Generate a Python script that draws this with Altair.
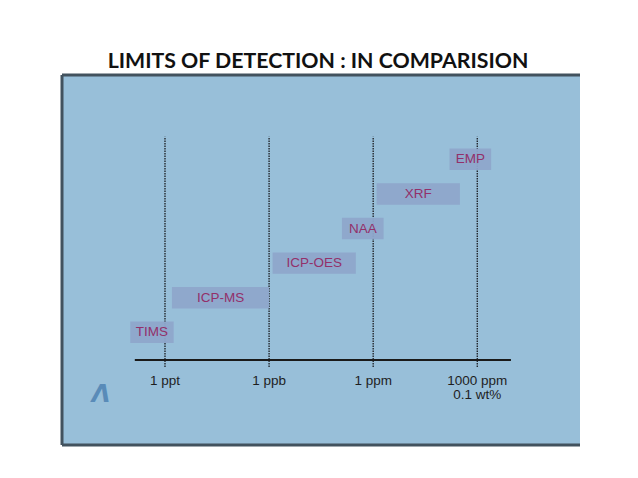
import altair as alt
import pandas as pd

# Techniques and their detection ranges (log10 of mass fraction; 1 ppt = -12)
techniques = ["TIMS", "ICP-MS", "ICP-OES", "NAA", "XRF", "EMP"]
range_start = [-13.0, -11.8, -8.9, -6.9, -5.9, -3.8]
range_end = [-11.75, -9.0, -6.5, -5.7, -3.5, -2.6]
level = [1, 2, 3, 4, 5, 6]

# Reference marks on the concentration axis
tick_values = [-12, -9, -6, -3]
tick_labels = ["1 ppt", "1 ppb", "1 ppm", "1000 ppm\n0.1 wt%"]

axis_start, axis_end = -12.87, -2.03
axis_level = 0.2

bars = pd.DataFrame({"tech": techniques, "x0": range_start, "x1": range_end, "lvl": level})
bars["mid"] = (bars["x0"] + bars["x1"]) / 2
bars["lo"] = bars["lvl"] - 0.31
bars["hi"] = bars["lvl"] + 0.31

ticks = pd.DataFrame({"v": tick_values, "label": tick_labels,
                      "top": [6.65] * 4, "bot": [0.0] * 4, "ly": [-0.42] * 4})
axis_df = pd.DataFrame({"x0": [axis_start], "x1": [axis_end], "y": [axis_level]})

W, H = 518, 370
xs = alt.Scale(domain=[-14.968, -0.040], nice=False, zero=False)
ys = alt.Scale(domain=[-2.257, 8.437], nice=False, zero=False)

vlines = alt.Chart(ticks).mark_rule(color="#23282e", strokeWidth=1.4, strokeDash=[1.5, 1]).encode(
    x=alt.X("v:Q", scale=xs, axis=None),
    y=alt.Y("bot:Q", scale=ys, axis=None),
    y2="top:Q",
)

base_line = alt.Chart(axis_df).mark_rule(color="#1a1a1a", strokeWidth=1.8).encode(
    x=alt.X("x0:Q", scale=xs, axis=None),
    x2="x1:Q",
    y=alt.Y("y:Q", scale=ys, axis=None),
)

tick_text = alt.Chart(ticks).mark_text(
    font="Liberation Sans", fontSize=13.5, color="#1e1e1e", baseline="middle",
    lineBreak="\n", lineHeight=14,
).encode(
    x=alt.X("v:Q", scale=xs, axis=None),
    y=alt.Y("ly:Q", scale=ys, axis=None),
    text="label:N",
)

rects = alt.Chart(bars).mark_rect(color="#8ea6cb", opacity=0.95).encode(
    x=alt.X("x0:Q", scale=xs, axis=None),
    x2="x1:Q",
    y=alt.Y("lo:Q", scale=ys, axis=None),
    y2="hi:Q",
)

labels = alt.Chart(bars).mark_text(
    font="Liberation Sans", fontSize=13.5, color="#93306a", baseline="middle",
).encode(
    x=alt.X("mid:Q", scale=xs, axis=None),
    y=alt.Y("lvl:Q", scale=ys, axis=None),
    text="tech:N",
)

logo = alt.Chart(pd.DataFrame({"t": ["\u039b"]})).mark_text(
    font="DejaVu Sans", fontSize=24, fontWeight="bold", color="#4f82b3",
    fontStyle="italic", baseline="middle", opacity=0.85,
).encode(x=alt.value(39), y=alt.value(320), text="t:N")

border_left = alt.Chart(axis_df).mark_rule(color="#42525e", strokeWidth=3).encode(
    x=alt.value(0), y=alt.value(0), y2=alt.value(H))
border_top = alt.Chart(axis_df).mark_rule(color="#42525e", strokeWidth=3).encode(
    x=alt.value(0), x2=alt.value(W), y=alt.value(0))
border_bottom = alt.Chart(axis_df).mark_rule(color="#42525e", strokeWidth=3).encode(
    x=alt.value(0), x2=alt.value(W), y=alt.value(H))

chart = alt.layer(
    vlines, base_line, rects, labels, tick_text, logo,
    border_left, border_top, border_bottom,
).properties(
    width=W, height=H,
    title=alt.Title("LIMITS OF DETECTION : IN COMPARISION", font="Lato", fontSize=21.3,
                    fontWeight="bold", color="#111111", anchor="middle", offset=1, dx=-3),
    autosize=alt.AutoSizeParams(type="none"),
    padding={"left": 54, "top": 67, "right": 50, "bottom": 25},
    background="white",
).configure_view(fill="#98bfd9", stroke=None)

chart.save("out.html", embed_options={"renderer": "svg", "actions": False})
